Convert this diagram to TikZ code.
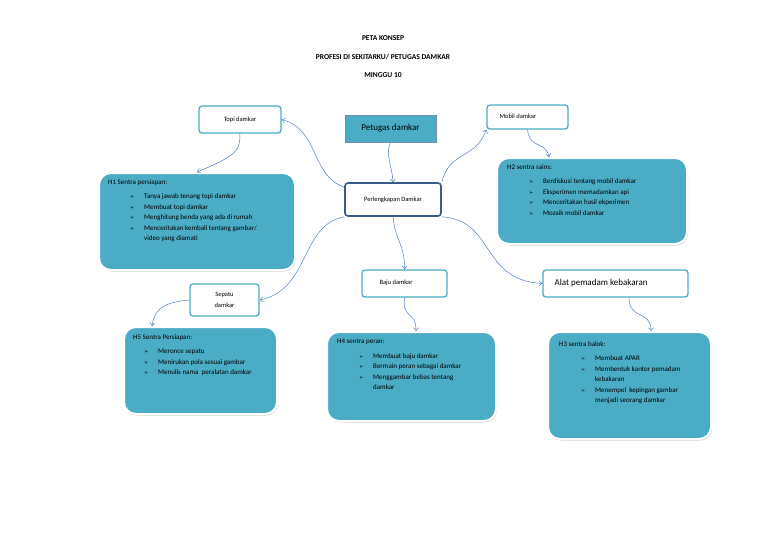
\documentclass[tikz,border=0pt]{standalone}
\usepackage{fontspec}
\setmainfont{Carlito}
\newfontfamily\dv{DejaVu Sans}
\usetikzlibrary{shadows,arrows.meta}
\definecolor{teal0}{HTML}{4BACC6}
\definecolor{line0}{HTML}{4F81BD}
\definecolor{dark0}{HTML}{385D8A}
\tikzset{
  topic/.style={draw=teal0, line width=1.3pt, fill=white, rounded corners=3pt, inner sep=0pt},
  act/.style={draw=white, line width=2pt, fill=teal0, rounded corners=12pt, inner sep=0pt, drop shadow={shadow xshift=1pt, shadow yshift=-1.5pt, opacity=0.35}},
  lbl/.style={font=\fontsize{7}{10.5}\selectfont, align=left, inner sep=0pt, anchor=north west},
  link/.style={draw=line0, line width=0.5pt, -{Straight Barb[length=3pt,width=5pt]}},
}
\newcommand{\itm}[1]{\hspace*{22pt}\makebox[14pt][l]{\dv\fontsize{5}{5}\selectfont ➢}#1}
\begin{document}
\begin{tikzpicture}[x=1pt,y=-1pt]
	\useasboundingbox (0,0) rectangle (768,543);
	
	% title
	\node[font=\bfseries\fontsize{7.5}{9}\selectfont] (t1) at (383,38) {PETA KONSEP};
	\node[font=\bfseries\fontsize{7.5}{9}\selectfont] (t2) at (383,57) {PROFESI DI SEKITARKU/ PETUGAS DAMKAR};
	\node[font=\bfseries\fontsize{7.5}{9}\selectfont] (t3) at (383,75) {MINGGU 10};
	
	% topics
	\node[topic, minimum width=82, minimum height=27, font=\fontsize{6.5}{8}\selectfont] (topi) at (240,119.5) {Topi damkar};
	\node[draw=dark0!70, line width=0.8pt, fill=teal0, minimum width=91, minimum height=27, font=\fontsize{9}{10}\selectfont, inner sep=0pt] (petugas) at (390.5,128.5) {Petugas damkar};
	\node[topic, minimum width=81, minimum height=24] (mobil) at (527.5,117) {};
	\node[font=\fontsize{6.5}{8}\selectfont, anchor=west] (mobilt) at (496,116) {Mobil damkar};
	\node[topic, draw=dark0, line width=1.6pt, minimum width=96, minimum height=33, font=\fontsize{6.5}{8}\selectfont] (hub) at (393,199.5) {Perlengkapan Damkar};
	\node[topic, minimum width=69, minimum height=32, align=center, font=\fontsize{6.5}{11}\selectfont] (sepatu) at (224.5,300) {Sepatu\\damkar};
	\node[topic, minimum width=85, minimum height=27] (baju) at (404.5,283.5) {};
	\node[font=\fontsize{6.5}{8}\selectfont, anchor=west] (bajut) at (376,283) {Baju damkar};
	\node[topic, minimum width=145, minimum height=27] (alat) at (615.5,283.5) {};
	\node[font=\fontsize{9}{10}\selectfont, anchor=west] (alatt) at (551,283.5) {Alat pemadam kebakaran};
	
	% activity boxes
	\node[act, minimum width=196, minimum height=97] (h1) at (197,221.5) {};
	\node[act, minimum width=190, minimum height=86] (h2) at (592,201) {};
	\node[act, minimum width=153, minimum height=87] (h5) at (200.5,370.5) {};
	\node[act, minimum width=169, minimum height=89] (h4) at (411.5,376.5) {};
	\node[act, minimum width=163, minimum height=107] (h3) at (629.5,385.5) {};
	
	\node[lbl] (h1t) at (108,179) {H1 Sentra persiapan:\\[4pt]
		\itm{Tanya jawab tenang topi damkar}\\
		\itm{Membuat topi damkar}\\
		\itm{Menghitung benda yang ada di rumah}\\
		\itm{Menceritakan kembali tentang gambar/}\\
		\hspace*{36pt}video yang diamati};
	\node[lbl] (h2t) at (507,164) {H2 sentra sains:\\[4pt]
		\itm{Berdiskusi tentang mobil damkar}\\
		\itm{Eksperimen memadamkan api}\\
		\itm{Menceritakan hasil ekperimen}\\
		\itm{Mozaik mobil damkar}};
	\node[lbl] (h5t) at (133,334) {H5 Sentra Persiapan:\\[4pt]
		\hspace*{-11pt}\itm{Meronce sepatu}\\
		\hspace*{-11pt}\itm{Menirukan pola sesuai gambar}\\
		\hspace*{-11pt}\itm{Menulis nama\ \ peralatan damkar}};
	\node[lbl] (h4t) at (337,339) {H4 sentra peran:\\[4pt]
		\itm{Membuat baju damkar}\\
		\itm{Bermain peran sebagai damkar}\\
		\itm{Menggambar bebas tentang}\\
		\hspace*{36pt}damkar};
	\node[lbl] (h3t) at (559,341) {H3 sentra balok:\\[4pt]
		\itm{Membuat APAR}\\
		\itm{Membentuk kantor pemadam}\\
		\hspace*{36pt}kebakaran\\
		\itm{Menempel\ \ kepingan gambar}\\
		\hspace*{36pt}menjadi seorang damkar};
	
	% connectors
	\draw[link] (hub.north west) ++(0,5) coordinate (c1) .. controls (310,175) and (320,130) .. (topi.east);
	\draw[link] (petugas.south) .. controls (385,155) and (392,165) .. (hub.north);
	\draw[link] (hub.north east) .. controls (450,150) and (475,160) .. (mobil.south west);
	\draw[link] (topi.south) .. controls (240,150) and (238,155) .. (h1.north);
	\draw[link] (mobil.south) .. controls (530,150) and (545,140) .. (h2.north -| 549,0);
	\draw[link] (hub.south west) .. controls (300,225) and (310,290) .. (sepatu.east);
	\draw[link] (hub.south) .. controls (395,240) and (405,245) .. (baju.north);
	\draw[link] (hub.south east) .. controls (495,220) and (480,280) .. (alat.west);
	\draw[link] (sepatu.west) .. controls (170,302) and (155,305) .. (h5.north -| 152,0);
	\draw[link] (baju.south) .. controls (402,320) and (416,310) .. (h4.north -| 416,0);
	\draw[link] (alat.south -| 629,0) .. controls (629,320) and (651,310) .. (h3.north -| 651,0);
\end{tikzpicture}
\end{document}
